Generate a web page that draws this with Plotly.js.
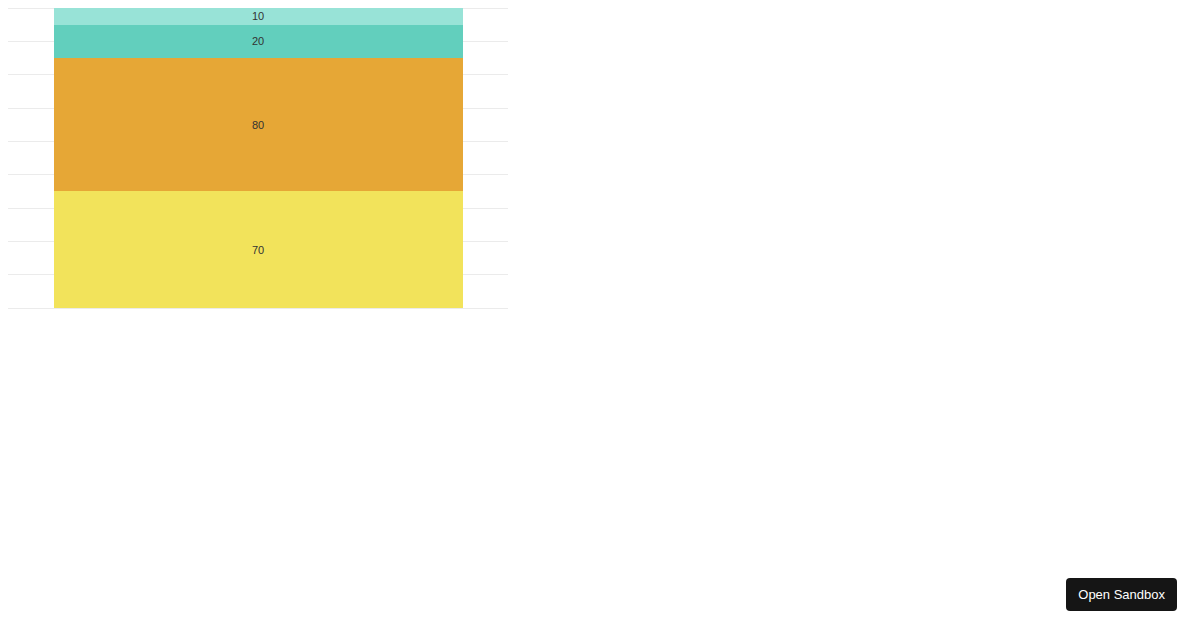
<!DOCTYPE html>
<html>
<head>
<meta charset="utf-8">
<script src="https://cdn.plot.ly/plotly-3.0.1.min.js"></script>
<style>
  body { margin: 0; background: #fff; }
  #chart { width: 500px; height: 304px; margin: 6px 0 0 8px; }
  .sandbox-btn {
    position: fixed; right: 23px; bottom: 19px;
    background: #151515; color: #fff; border: none; border-radius: 4px;
    font-family: "Liberation Sans", Arial, sans-serif; font-size: 13px;
    padding: 9px 12px;
  }
</style>
</head>
<body>
<div id="chart"></div>
<button class="sandbox-btn">Open Sandbox</button>
<script>
// one stacked column, segments from bottom to top
var category = ["A"];
var seg_names = ["s1", "s2", "s3", "s4"];
var seg_values = [70, 80, 20, 10];
var seg_colors = ["#f2e35b", "#e6a736", "#62cfbd", "#98e3d7"];

var data = [];
for (var i = 0; i < seg_values.length; i++) {
  data.push({
    x: category,
    y: [seg_values[i]],
    name: seg_names[i],
    type: 'bar',
    text: [String(seg_values[i])],
    textposition: 'inside',
    insidetextanchor: 'middle',
    constraintext: 'none',
    textfont: { color: '#333', size: 11, family: 'Liberation Sans, Arial, sans-serif' },
    marker: { color: seg_colors[i] },
    hoverinfo: 'none'
  });
}

// small padding (2px) so the 0 and 180 grid lines are kept
var layout = {
  barmode: 'stack',
  bargap: 0.182,
  showlegend: false,
  margin: { l: 0, r: 0, t: 0, b: 0 },
  paper_bgcolor: '#fff',
  plot_bgcolor: '#fff',
  xaxis: { showticklabels: false, showgrid: false, zeroline: false, fixedrange: true },
  yaxis: {
    range: [-1.2, 181.2], tick0: 0, dtick: 20, showticklabels: false,
    gridcolor: '#ebebeb', gridwidth: 1, zeroline: false
  }
};

Plotly.newPlot("chart", data, layout, { displayModeBar: false, staticPlot: true });
</script>
</body>
</html>
